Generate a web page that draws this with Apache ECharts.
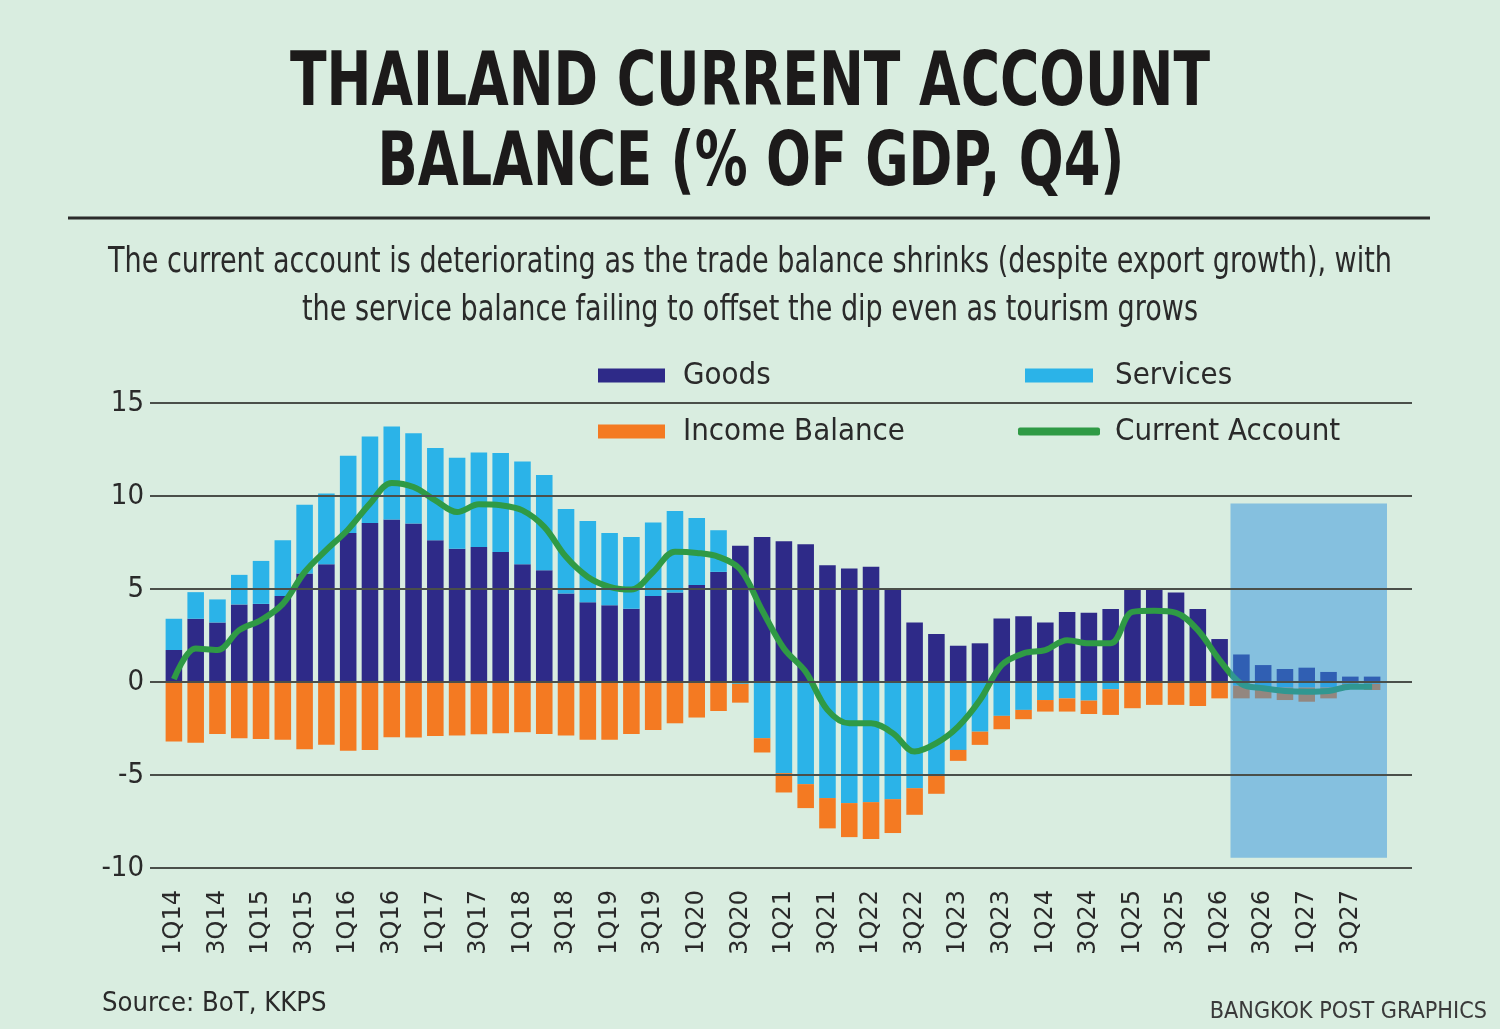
<!DOCTYPE html>
<html>
<head>
<meta charset="utf-8">
<script src="https://cdn.jsdelivr.net/npm/echarts@6/dist/echarts.min.js"></script>
<style>
html,body{margin:0;padding:0;background:#d9ede0;}
#chart{width:1500px;height:1029px;}
</style>
</head>
<body>
<div id="chart"></div>
<script>
const quarters = [];
['14','15','16','17','18','19','20','21','22','23','24','25','26','27'].forEach(function (y) {
  ['1Q','2Q','3Q','4Q'].forEach(function (q) { quarters.push(q + y); });
});

const goods = [1.72,3.4,3.2,4.17,4.2,4.62,5.83,6.33,8.01,8.55,
  8.73,8.52,7.62,7.17,7.26,6.99,6.33,6.01,4.76,4.29,
  4.13,3.94,4.63,4.81,5.21,5.92,7.32,7.8,7.57,7.41,
  6.28,6.1,6.19,4.99,3.2,2.58,1.95,2.08,3.42,3.54,
  3.2,3.77,3.72,3.92,4.99,4.97,4.81,3.92,2.31,1.48,
  0.91,0.7,0.77,0.54,0.29,0.29];

const services = [1.68,1.43,1.24,1.59,2.31,3.0,3.7,3.81,4.15,4.65,
  5.01,4.86,4.96,4.89,5.08,5.32,5.53,5.12,4.54,4.37,
  3.88,3.86,3.94,4.39,3.61,2.24,-0.1,-3.02,-4.9,-5.49,
  -6.24,-6.51,-6.46,-6.3,-5.71,-4.99,-3.65,-2.67,-1.82,-1.5,
  -0.97,-0.88,-1.0,-0.39,0,0,0,0,0,-0.2,
  -0.3,-0.3,-0.3,-0.3,-0.1,-0.1];

const incomeBalance = [-3.2,-3.26,-2.79,-3.02,-3.06,-3.11,-3.61,-3.38,-3.69,-3.65,
  -2.97,-2.99,-2.9,-2.88,-2.81,-2.75,-2.7,-2.79,-2.88,-3.11,
  -3.11,-2.79,-2.58,-2.22,-1.91,-1.56,-1.01,-0.77,-1.04,-1.29,
  -1.63,-1.83,-1.98,-1.82,-1.43,-1.02,-0.59,-0.71,-0.72,-0.5,
  -0.62,-0.71,-0.72,-1.38,-1.41,-1.23,-1.23,-1.29,-0.88,-0.68,
  -0.58,-0.67,-0.76,-0.58,-0.24,-0.33];

const currentAccount = [0.15,1.8,1.72,2.79,3.33,4.2,5.9,7.1,8.2,9.59,
  10.7,10.48,9.77,9.14,9.55,9.5,9.23,8.34,6.73,5.65,
  5.12,4.97,5.92,7.0,6.94,6.73,6.05,3.86,1.8,0.55,
  -1.5,-2.22,-2.22,-2.75,-3.74,-3.29,-2.4,-0.97,0.91,1.54,
  1.72,2.25,2.08,2.08,3.77,3.83,3.72,2.79,1.18,-0.1,
  -0.34,-0.48,-0.52,-0.48,-0.25,-0.25];

// forecast shaded band: [first quarter index, last quarter index, top value, bottom value]
const forecastBand = [[49, 55, 9.6, -9.45]];

const yTicks = { min: -10, max: 15, interval: 5 };

const titleLines = ['THAILAND CURRENT ACCOUNT', 'BALANCE (% OF GDP, Q4)'];
const subtitleLines = [
  'The current account is deteriorating as the trade balance shrinks (despite export growth), with',
  'the service balance failing to offset the dip even as tourism grows'
];

const FONT = "'DejaVu Sans Condensed', 'DejaVu Sans', sans-serif";
const TXT = '#2a2a2a';

const measureCtx = document.createElement('canvas').getContext('2d');
function textWidth(str, font) { measureCtx.font = font; return measureCtx.measureText(str).width; }
function fitScale(str, weight, size, target) {
  return target / textWidth(str, weight + ' ' + size + 'px ' + FONT);
}
function fitSize(str, weight, target) {
  return Math.round(40 * target / textWidth(str, weight + ' 40px ' + FONT) * 10) / 10;
}

const legendFont = fitSize('Income Balance', 'normal', 222);

function stretchedText(str, x, y, weight, size, target, color) {
  return {
    type: 'text', x: x, y: y, scaleX: fitScale(str, weight, size, target), scaleY: 1,
    style: { text: str, fontFamily: FONT, fontWeight: weight, fontSize: size, fill: color,
      align: 'center', verticalAlign: 'middle' }
  };
}

const chart = echarts.init(document.getElementById('chart'));

function legendItem(name, left, top, w, h, icon, pad) {
  return {
    data: [name], left: left, top: top, itemWidth: w, itemHeight: h, icon: icon,
    selectedMode: false, padding: 0,
    textStyle: { fontFamily: FONT, fontSize: legendFont, color: TXT, padding: [0, 0, 0, pad] }
  };
}

chart.setOption({
  backgroundColor: '#d9ede0',
  animation: false,
  title: [
    {
      text: 'Source: BoT, KKPS', left: 97, top: 985,
      textStyle: { fontFamily: FONT, fontSize: fitSize('Source: BoT, KKPS', 'normal', 225), fontWeight: 'normal', color: TXT }
    },
    {
      text: 'BANGKOK POST GRAPHICS', right: 8, top: 995,
      textStyle: { fontFamily: FONT, fontSize: fitSize('BANGKOK POST GRAPHICS', 'normal', 277), fontWeight: 'normal', color: '#3a3a3a' }
    }
  ],
  graphic: [
    stretchedText(titleLines[0], 750, 86, 'bold', 75, 920, '#1c1a1a'),
    stretchedText(titleLines[1], 751, 166, 'bold', 75, 747, '#1c1a1a'),
    { type: 'line', shape: { x1: 68, y1: 218, x2: 1430, y2: 218 }, style: { stroke: '#2b2b2b', lineWidth: 3 } },
    stretchedText(subtitleLines[0], 750, 263, 'normal', 36, 1284, TXT),
    stretchedText(subtitleLines[1], 750, 311, 'normal', 36, 896, TXT)
  ],
  legend: [
    legendItem('Goods', 598, 360, 67, 14, 'rect', 13),
    legendItem('Services', 1025, 360, 68, 14, 'rect', 17),
    legendItem('Income Balance', 598, 416, 67, 14, 'rect', 13),
    legendItem('Current Account', 1018, 416, 82, 8, 'roundRect', 10)
  ],
  grid: [
    { left: 163, right: 117, top: 403, bottom: 161 },
    { left: 150, right: 88, top: 403, bottom: 161 }
  ],
  xAxis: [
    {
      type: 'category', gridIndex: 0, data: quarters,
      axisLine: { show: false }, axisTick: { show: false },
      axisLabel: { interval: 1, rotate: 90, margin: 22, fontFamily: 'DejaVu Sans', fontSize: 24, color: TXT }
    },
    { type: 'value', gridIndex: 1, min: 0, max: 1, show: false }
  ],
  yAxis: [
    { type: 'value', gridIndex: 0, min: yTicks.min, max: yTicks.max, interval: yTicks.interval, show: false },
    {
      type: 'value', gridIndex: 1, min: yTicks.min, max: yTicks.max, interval: yTicks.interval, z: 6,
      axisLine: { show: false }, axisTick: { show: false },
      axisLabel: { margin: 6, fontFamily: FONT, fontSize: 29, color: TXT },
      splitLine: { lineStyle: { color: '#4a4f4a', width: 2 } }
    }
  ],
  series: [
    { name: 'Goods', type: 'bar', stack: 'ca', data: goods, barCategoryGap: '24%', z: 2,
      itemStyle: { color: '#2e2a88' } },
    { name: 'Services', type: 'bar', stack: 'ca', data: services, z: 2,
      itemStyle: { color: '#2bb3e8' } },
    { name: 'Income Balance', type: 'bar', stack: 'ca', data: incomeBalance, z: 2,
      itemStyle: { color: '#f47a22' } },
    { name: 'Current Account', type: 'line', data: currentAccount, smooth: 0.35, symbol: 'none', z: 3,
      lineStyle: { color: '#2f9a45', width: 6 }, itemStyle: { color: '#2f9a45' } },
    {
      type: 'custom', z: 4, silent: true, data: forecastBand,
      encode: { x: [0, 1], y: [2, 3] },
      renderItem: function (params, api) {
        const s = api.coord([api.value(0), api.value(2)]);
        const e = api.coord([api.value(1), api.value(3)]);
        const bw = api.size([1, 0])[0];
        return {
          type: 'rect',
          shape: { x: s[0] - bw / 2, y: s[1], width: e[0] - s[0] + bw + 4, height: e[1] - s[1] },
          style: { fill: 'rgba(50,148,222,0.5)' }
        };
      }
    }
  ]
});
</script>
</body>
</html>
